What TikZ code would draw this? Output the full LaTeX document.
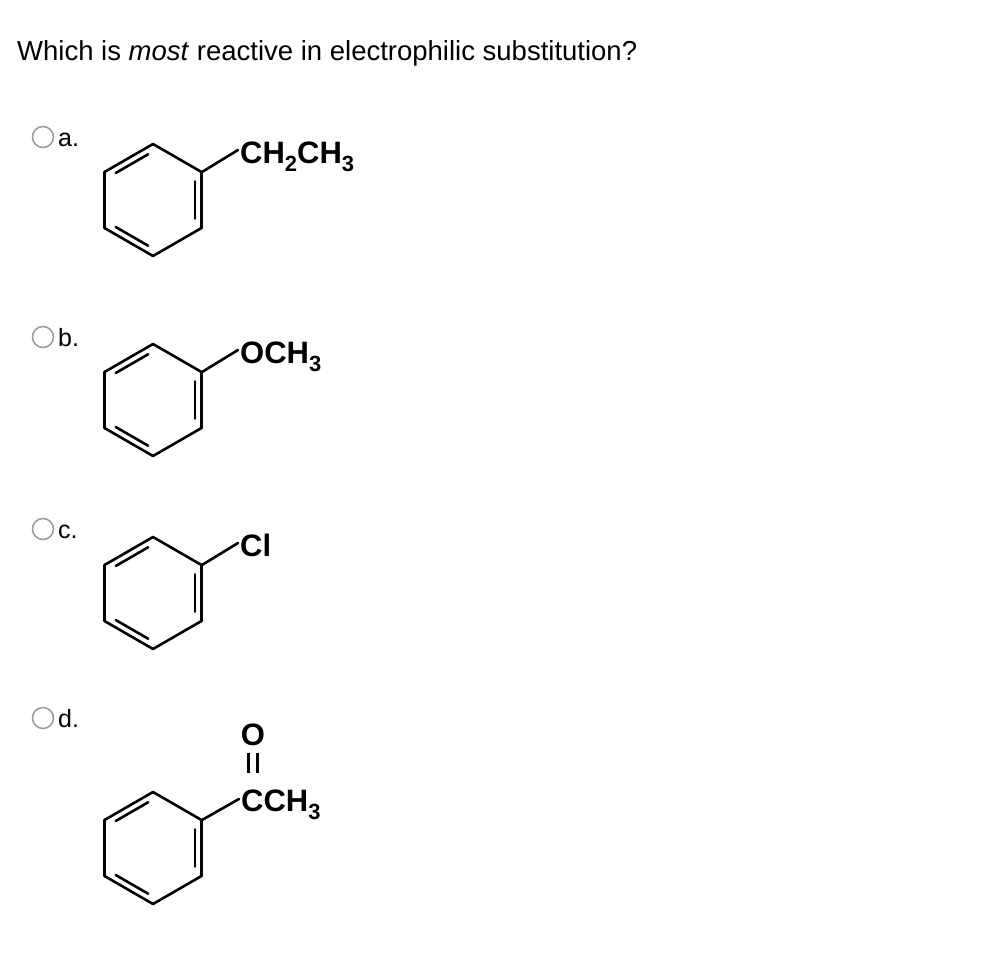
\documentclass[tikz,border=0pt]{standalone}
\usepackage{fontspec}
\setmainfont{Liberation Sans}
\newcommand\chsub[1]{\raisebox{-0.28em}{\fontsize{22}{22}\selectfont #1}}
\tikzset{bond/.style={line width=2.6pt,line cap=round,line join=round},
radio/.style={circle,draw=gray!80,line width=1.5pt,minimum size=21pt,inner sep=0pt},
lab/.style={anchor=base west,font=\fontsize{25}{25}\selectfont,inner sep=0pt},
chem/.style={anchor=base west,font=\fontsize{31}{31}\selectfont\bfseries,inner sep=0pt}}
\newcommand\benz[2]{%
\foreach \a in {30,90,...,330}{\draw[bond] ($(#1,#2)+(\a:56)$) -- ($(#1,#2)+(\a+60:56)$);}
\foreach \a in {90,210,330}{\draw[bond] ($(#1,#2)+(\a+6:46)$) -- ($(#1,#2)+(\a+54:46)$);}}
\usetikzlibrary{calc}
\begin{document}
\begin{tikzpicture}[x=1pt,y=-1pt]
\useasboundingbox (0,0) rectangle (996,958);
\node[anchor=base west,inner sep=0pt,font=\fontsize{27.5}{27.5}\selectfont] (title) at (17,61) {Which is \textit{most} reactive in electrophilic substitution?};
% options
\node[radio] (ra) at (43,137) {}; \node[lab] (la) at (58,146) {a.};
\node[radio] (rb) at (43,337) {}; \node[lab] (lb) at (58,346) {b.};
\node[radio] (rc) at (43,529) {}; \node[lab] (lc) at (58,538) {c.};
\node[radio] (rd) at (43,718) {}; \node[lab] (ld) at (58,727) {d.};
% a
\benz{153}{200}
\coordinate (a1) at (202,172);
\node[chem] (ta) at (240,163) {CH\chsub{2}CH\chsub{3}};
\draw[bond] (a1) -- (238,150);
% b
\benz{153}{400}
\coordinate (b1) at (202,372);
\node[chem] (tb) at (240,363) {OCH\chsub{3}};
\draw[bond] (b1) -- (238,350);
% c
\benz{153}{593}
\coordinate (c1) at (202,565);
\node[chem] (tc) at (240,556) {Cl};
\draw[bond] (c1) -- (238,543);
% d
\benz{153}{848}
\coordinate (d1) at (202,820);
\node[chem] (td) at (241,811) {CCH\chsub{3}};
\node[chem,anchor=center] (od) at (253,735) {O};
\draw[bond] (d1) -- (239,799);
\draw[bond,line cap=butt] (248.5,753) -- (248.5,773);
\draw[bond,line cap=butt] (257.5,753) -- (257.5,773);
\end{tikzpicture}
\end{document}
